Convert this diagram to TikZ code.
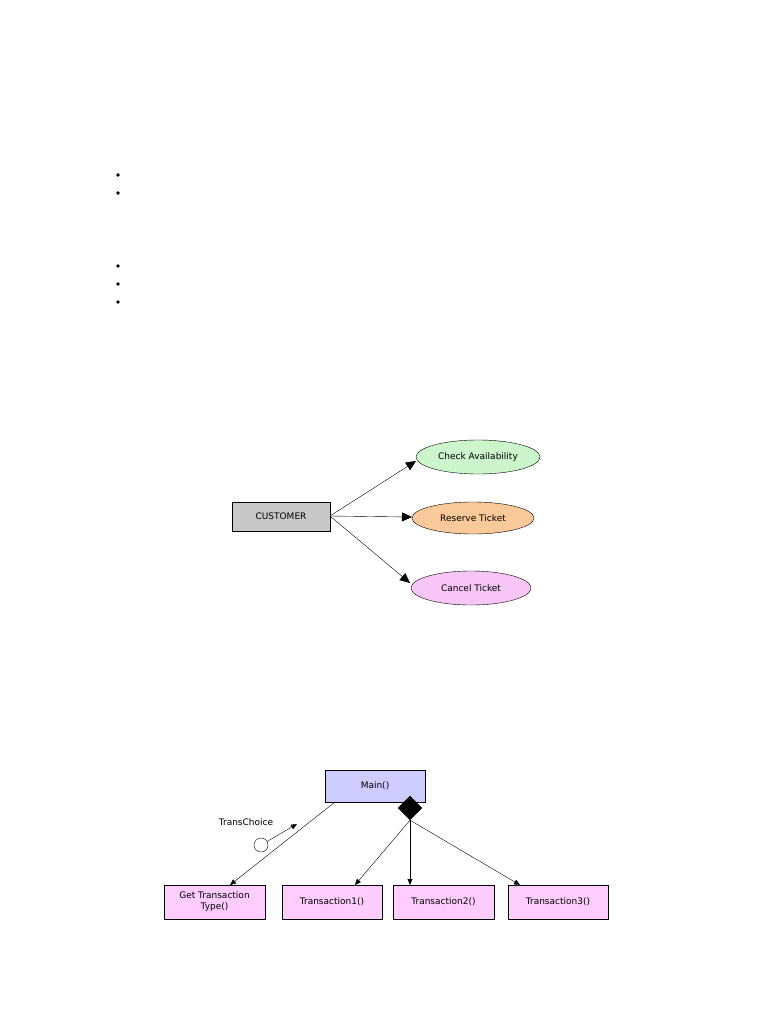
\documentclass[tikz,border=0pt]{standalone}
\usepackage{fontspec}
\setmainfont{DejaVu Sans}
\usetikzlibrary{shapes.geometric,arrows.meta}
\definecolor{cgray}{HTML}{C8C8C8}
\definecolor{cgreen}{HTML}{CCF5CC}
\definecolor{corange}{HTML}{F9C99A}
\definecolor{cpink}{HTML}{F7C6F7}
\definecolor{cblue}{HTML}{CCCCFF}
\definecolor{cmag}{HTML}{FFCCFF}
\begin{document}
\begin{tikzpicture}[x=1pt,y=-1pt,
  font=\fontsize{9}{11}\selectfont,
  ell/.style={ellipse,draw,inner sep=0pt},
  box/.style={rectangle,draw,inner sep=0pt,align=center},
  bigarr/.style={-{Triangle[length=10pt,width=9pt]}},
  smarr/.style={-{Triangle[length=6pt,width=5pt]}}]
\useasboundingbox (0,0) rectangle (768,1024);
\foreach \yy [count=\i] in {175,193,266,284,302}
  \fill (118,\yy) circle (1.8);
\node[box,fill=cgray,minimum width=98pt,minimum height=29pt] (cust) at (281,516.5) {CUSTOMER};
\node[ell,fill=cgreen,minimum width=124pt,minimum height=34pt] (chk) at (478,457) {Check Availability};
\node[ell,fill=corange,minimum width=122pt,minimum height=32pt] (res) at (473,518) {Reserve Ticket};
\node[ell,fill=cpink,minimum width=120pt,minimum height=34pt] (can) at (471,588) {Cancel Ticket};
\coordinate (co) at (330,516);
\draw[bigarr] (co) -- (416,461);
\draw[bigarr] (co) -- (412,517);
\draw[bigarr] (co) -- (410,583);

\node[box,fill=cblue,minimum width=100pt,minimum height=32pt] (main) at (375,786) {Main()};
\node[diamond,draw,fill=black,minimum width=24pt,minimum height=24pt,inner sep=0pt] (dia) at (410,808) {};
\node[box,fill=cmag,minimum width=101pt,minimum height=34pt] (g) at (214.5,902) {Get Transaction\\Type()};
\node[box,fill=cmag,minimum width=100pt,minimum height=34pt] (t1) at (332,902) {Transaction1()};
\node[box,fill=cmag,minimum width=101pt,minimum height=34pt] (t2) at (443.5,902) {Transaction2()};
\node[box,fill=cmag,minimum width=100pt,minimum height=34pt] (t3) at (558,902) {Transaction3()};
\draw[smarr] (335,802) -- (230,885);
\draw[smarr] (dia.south) -- (355,885);
\draw[smarr] (dia.south) -- (410,885);
\draw[smarr] (dia.south) -- (520,885);
\node (tc) at (246,822) {TransChoice};
\node[circle,draw,minimum size=14pt,inner sep=0pt] (circ) at (261,845) {};
\draw[smarr] (circ) -- (297,824);
\end{tikzpicture}
\end{document}
